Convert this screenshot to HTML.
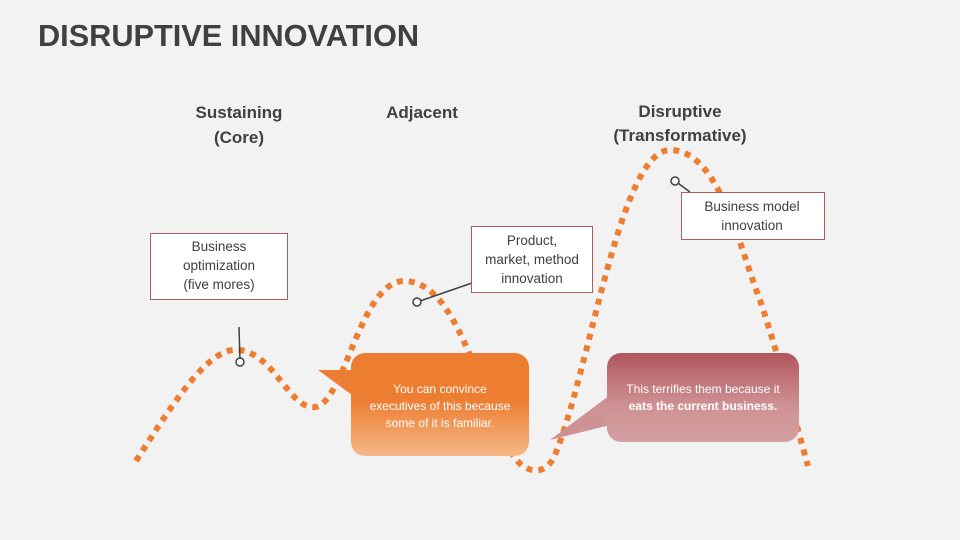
<!DOCTYPE html>
<html><head><meta charset="utf-8"><style>
body{margin:0;background:#f2f2f2;}
svg{display:block;font-family:"Liberation Sans",Arial,sans-serif;}
</style></head><body>
<svg width="960" height="540" viewBox="0 0 960 540">
<defs>
<linearGradient id="og" x1="0" y1="0" x2="0" y2="1"><stop offset="0.45" stop-color="#ed7d31"/><stop offset="1" stop-color="#f5b787"/></linearGradient>
<linearGradient id="rg" x1="0" y1="0" x2="0" y2="1"><stop offset="0" stop-color="#b0555d"/><stop offset="0.6" stop-color="#cf9294"/><stop offset="1" stop-color="#d4a0a2"/></linearGradient>
</defs>
<rect width="960" height="540" fill="#f2f2f2"/>
<text x="38" y="46" font-size="31" font-weight="bold" fill="#404040" textLength="381" lengthAdjust="spacingAndGlyphs">DISRUPTIVE INNOVATION</text>
<g font-size="17" font-weight="bold" fill="#404040" text-anchor="middle">
<text x="239" y="118">Sustaining</text><text x="239" y="143">(Core)</text>
<text x="422" y="118">Adjacent</text>
<text x="680" y="117">Disruptive</text><text x="680" y="141">(Transformative)</text>
</g>
<path d="M136,461 C175,400 210,345 240,350 C275,355 290,410 315,407 C345,403 360,280 405,281 C440,282 460,330 478,375 C490,405 505,445 515,458 C525,472 545,478 555,455 C590,370 620,150 670,150 C720,150 740,250 760,300 C780,360 795,420 808,466" fill="none" stroke="#ed7d31" stroke-width="6" stroke-dasharray="6 6"/>
<line x1="239" y1="327" x2="240" y2="361" stroke="#404040" stroke-width="1.5"/>
<circle cx="240" cy="362" r="4" fill="#fff" stroke="#404040" stroke-width="1.5"/>
<line x1="417" y1="302" x2="472" y2="283" stroke="#404040" stroke-width="1.5"/>
<circle cx="417" cy="302" r="4" fill="#fff" stroke="#404040" stroke-width="1.5"/>
<line x1="675" y1="181" x2="690" y2="192" stroke="#404040" stroke-width="1.5"/>
<circle cx="675" cy="181" r="4" fill="#fff" stroke="#404040" stroke-width="1.5"/>
<g fill="#fff" stroke="#b05a5a" stroke-width="1">
<rect x="150.5" y="233.5" width="137" height="66"/>
<rect x="471.5" y="226.5" width="121" height="66"/>
<rect x="681.5" y="192.5" width="143" height="47"/>
</g>
<g font-size="13.5" fill="#404040" text-anchor="middle">
<text x="219" y="251">Business</text><text x="219" y="270">optimization</text><text x="219" y="289">(five mores)</text>
<text x="532" y="245">Product,</text><text x="532" y="264">market, method</text><text x="532" y="283">innovation</text>
<text x="752" y="211">Business model</text><text x="752" y="230">innovation</text>
</g>
<path d="M318,370 L352,370 L352,395 Z" fill="#ed7d31"/>
<rect x="351" y="353" width="178" height="103" rx="14" fill="url(#og)"/>
<path d="M550,440 L610,395 L610,425 Z" fill="#cf9294"/>
<rect x="607" y="353" width="192" height="89" rx="14" fill="url(#rg)"/>
<g font-size="12" fill="#fff" text-anchor="middle">
<text x="440" y="393">You can convince</text><text x="440" y="410">executives of this because</text><text x="440" y="427">some of it is familiar.</text>
<text x="703" y="393">This terrifies them because it</text><text x="703" y="410" font-weight="bold">eats the current business.</text>
</g>
</svg>
</body></html>
